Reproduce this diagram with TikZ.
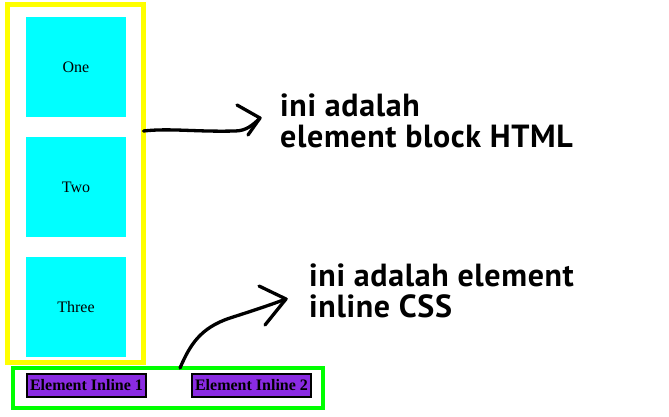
\documentclass[tikz,border=0pt]{standalone}
\usepackage{fontspec}
\setmainfont{Liberation Serif}
\newfontfamily\notefont[LetterSpace=2]{PT Sans}
\definecolor{blockcyan}{HTML}{00FFFF}
\definecolor{wrapyellow}{HTML}{FFFF00}
\definecolor{wrapgreen}{HTML}{00FF00}
\definecolor{inlinepurple}{HTML}{8A2BE2}
\tikzset{
  blockitem/.style={fill=blockcyan, minimum width=100pt, minimum height=100pt, inner sep=0pt, outer sep=0pt, font=\fontsize{16}{19}\selectfont},
  inlineitem/.style={draw=black, line width=2pt, fill=inlinepurple, minimum width=119pt, minimum height=23pt, inner sep=0pt, outer sep=0pt, font=\fontsize{16}{19}\selectfont\bfseries},
  wrapper/.style={inner sep=0pt, outer sep=0pt},
  notetext/.style={anchor=base west, inner sep=0pt, align=left, font=\notefont\bfseries\fontsize{32}{30.5}\selectfont},
  handline/.style={line width=3.3pt, line cap=round, line join=round}
}
\begin{document}
\begin{tikzpicture}[x=1pt,y=-1pt]
\useasboundingbox (0,0) rectangle (669,417);
\node[wrapper, draw=wrapyellow, line width=5pt, minimum width=136pt, minimum height=358pt] (blockBox) at (75.5,183.5) {};
\node[blockitem] (blockOne) at (76,67) {One};
\node[blockitem] (blockTwo) at (76,187) {Two};
\node[blockitem] (blockThree) at (76,307) {Three};
\node[wrapper, draw=wrapgreen, line width=4pt, minimum width=310pt, minimum height=40pt] (inlineBox) at (168,388) {};
\node[inlineitem] (inlineOne) at (86.5,385.5) {Element Inline 1};
\node[inlineitem] (inlineTwo) at (251.5,385.5) {Element Inline 2};
\node[notetext] (blockNote) at (280,147) {ini adalah\\element block HTML};
\node[notetext] (inlineNote) at (309,317) {ini adalah element\\inline CSS};
\coordinate (blockTip) at (260,118);
\coordinate (inlineTip) at (286,299);
\draw[handline] ([yshift=52.5pt]blockBox.east) .. controls (170,128) and (195,132) .. (235,131) .. controls (246,131) and (253,125) .. (blockTip);
\draw[handline] (237,105) -- (blockTip) -- (248,135);
\draw[handline] ([xshift=12pt]inlineBox.north) .. controls (190,345) and (200,328) .. (230,318) .. controls (255,310) and (270,305) .. (inlineTip);
\draw[handline] (259,286) -- (inlineTip) -- (265,325);
\end{tikzpicture}
\end{document}
